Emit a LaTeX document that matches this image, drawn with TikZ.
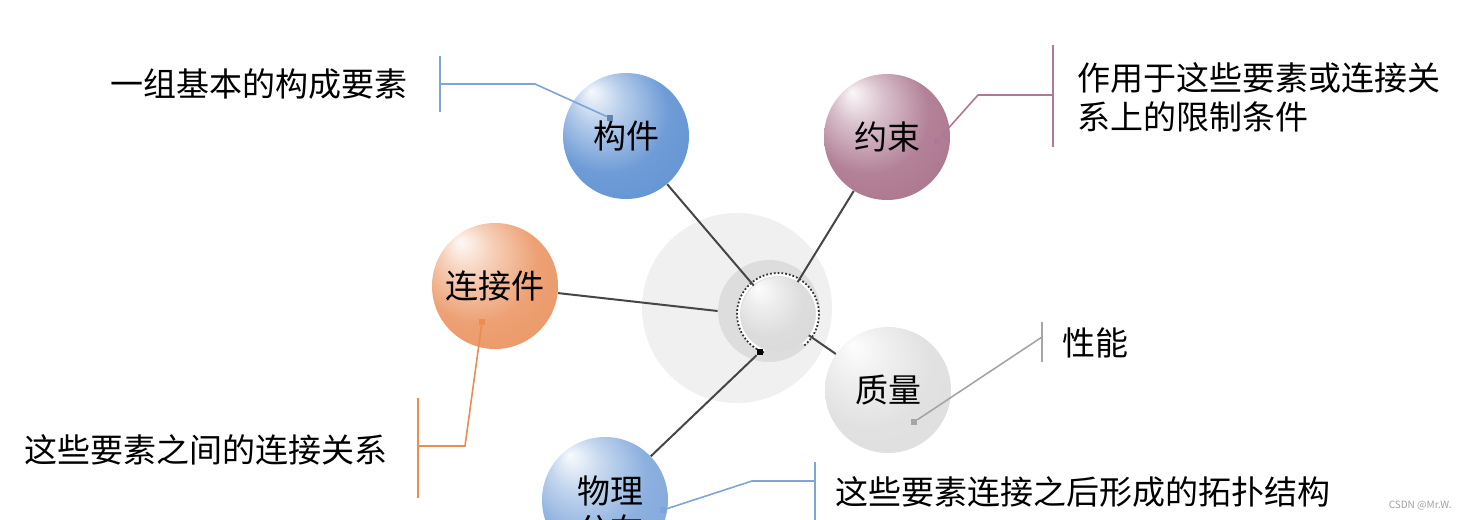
\documentclass[tikz,border=0pt]{standalone}
\usepackage{fontspec}
\setmainfont{Noto Sans CJK SC}
\usetikzlibrary{positioning}

\definecolor{ballblue}{RGB}{95,145,210}
\definecolor{ballmauve}{RGB}{170,115,140}
\definecolor{ballorange}{RGB}{235,150,100}
\definecolor{ballgray}{RGB}{222,222,222}
\definecolor{lineblue}{RGB}{125,165,215}
\definecolor{linemauve}{RGB}{175,120,150}
\definecolor{lineorange}{RGB}{235,140,80}
\definecolor{linegray}{RGB}{165,165,165}

\makeatletter
\pgfdeclareradialshading[tikz@ball]{softball}{\pgfpoint{-14bp}{18bp}}{%
  color(0bp)=(tikz@ball!5!white); color(10bp)=(tikz@ball!45!white);
  color(24bp)=(tikz@ball!90!white); color(40bp)=(tikz@ball);
  color(46bp)=(tikz@ball!82!black); color(50bp)=(tikz@ball!65!black)}
\makeatother

\tikzset{
  sphere/.style={circle, inner sep=0pt, minimum size=63pt, ball color=#1, shading=softball},
  spoke/.style={draw=gray!55!black, line width=1pt},
  callout/.style={line width=0.8pt},
  dotmark/.style={rectangle, inner sep=0pt, minimum size=3pt, fill=#1},
  note/.style={inner sep=0pt}
}

\begin{document}
\begin{tikzpicture}[x=0.5pt, y=-0.5pt, font=\fontsize{16.5}{19.5}\selectfont]
        \useasboundingbox (0,0) rectangle (1464,520);
        \clip (0,0) rectangle (1464,520);

        % Define nodes
        \node (halo) at (737,308) [circle, fill=gray!12, minimum size=95pt] {};
        \node (rim) at (769,311) [circle, fill=gray!27, minimum size=51pt] {};
        \node (hub) at (778,314) [sphere=gray!30, minimum size=37pt] {};
        \draw[white, line width=1.6pt] (hub.center) ++(-50:19.8pt) arc[start angle=-50, end angle=250, radius=19.8pt];
        \draw[gray!40!black, densely dotted, line width=0.9pt] (hub.center) ++(-50:20.5pt) arc[start angle=-50, end angle=250, radius=20.5pt];
        \node (hub_dot) at (760,352) [dotmark=black] {};

        \node (component) at (626,136) [sphere=ballblue] {构件};
        \node (constraint) at (887,137) [sphere=ballmauve] {约束};
        \node (connector) at (495,286) [sphere=ballorange] {连接件};
        \node (quality) at (888,390) [sphere=ballgray] {质量};
        \node (layout) at (605,500) [sphere=ballblue!80!white] {};
        \node (layout_text) at (610,511) [align=center, inner sep=0pt] {物理\\分布};

        \node (component_note) [note, anchor=east] at (408,84) {一组基本的构成要素};
        \node (constraint_note) [note, anchor=west, align=left] at (1077,97) {作用于这些要素或连接关\\系上的限制条件};
        \node (connector_note) [note, anchor=east] at (388,450) {这些要素之间的连接关系};
        \node (quality_note) [note, anchor=west] at (1062,343) {性能};
        \node (layout_note) [note, anchor=west] at (835,492) {这些要素连接之后形成的拓扑结构};
        \node (mark) [note, anchor=east, font=\fontsize{5}{6}\selectfont, text=gray!75] at (1452,506) {CSDN @Mr.W.};

        % Draw spokes
        \draw[spoke] (component) -- (hub);
        \draw[spoke] (constraint) -- (hub);
        \draw[spoke] (connector) -- (rim.west);
        \draw[spoke] (quality) -- (hub);
        \draw[spoke] (layout) -- (hub_dot);

        % Draw callouts
        \node (component_dot) at (610,118) [dotmark=lineblue!80!black] {};
        \coordinate (component_top) at (440,56);
        \coordinate (component_bot) at (440,112);
        \draw[callout, lineblue] (component_top) -- (component_bot);
        \draw[callout, lineblue] (440,84) -- (535,84) -- (component_dot);

        \node (constraint_dot) at (937,141) [dotmark=linemauve] {};
        \coordinate (constraint_top) at (1053,45);
        \coordinate (constraint_bot) at (1053,147);
        \draw[callout, linemauve] (constraint_top) -- (constraint_bot);
        \draw[callout, linemauve] (1053,95) -- (978,95) -- (constraint_dot);

        \node (connector_dot) at (482,322) [dotmark=lineorange] {};
        \coordinate (connector_top) at (418,398);
        \coordinate (connector_bot) at (418,498);
        \draw[callout, lineorange] (connector_top) -- (connector_bot);
        \draw[callout, lineorange] (418,446) -- (465,446) -- (connector_dot);

        \node (quality_dot) at (914,422) [dotmark=gray!70] {};
        \coordinate (quality_top) at (1042,322);
        \coordinate (quality_bot) at (1042,362);
        \draw[callout, linegray] (quality_top) -- (quality_bot);
        \draw[callout, linegray] (1042,337) -- (quality_dot);

        \node (layout_dot) at (663,510) [dotmark=lineblue] {};
        \coordinate (layout_top) at (815,462);
        \coordinate (layout_bot) at (815,520);
        \draw[callout, lineblue] (layout_top) -- (layout_bot);
        \draw[callout, lineblue] (815,481) -- (752,481) -- (layout_dot);
    \end{tikzpicture}
\end{document}
